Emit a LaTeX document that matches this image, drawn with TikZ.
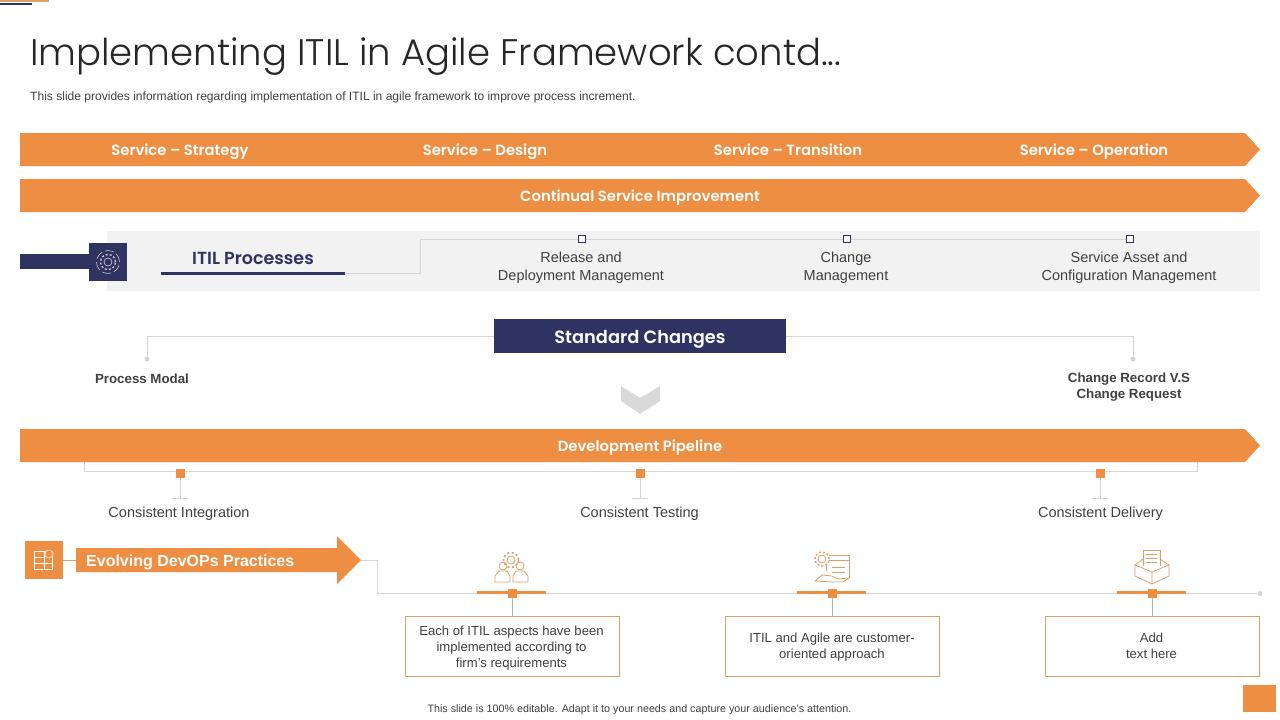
\documentclass[tikz,border=0pt]{standalone}
\usepackage{fontspec}
\setmainfont{Liberation Sans}
\newfontfamily\headfont{Poppins SemiBold}
\newfontfamily\titlefont{Poppins Light}
\usetikzlibrary{positioning}
\definecolor{barorange}{HTML}{ED8E42}
\definecolor{navyblue}{HTML}{2E3361}
\definecolor{lineorange}{HTML}{DB9F68}
\definecolor{linegrey}{HTML}{D4D4D4}
\definecolor{bandgrey}{HTML}{F2F2F2}
\definecolor{textgrey}{HTML}{404040}
\tikzset{
  barlabel/.style={anchor=base, text=white, font=\headfont\fontsize{14.8}{18}\selectfont},
  proclabel/.style={text=textgrey, align=center, font=\fontsize{14.5}{18}\selectfont},
  sublabel/.style={text=textgrey, align=center, font=\fontsize{13.3}{16}\selectfont\bfseries},
  tasklabel/.style={text=textgrey, font=\fontsize{14.5}{18}\selectfont},
  smallsq/.style={draw=navyblue, fill=white, line width=1pt, minimum size=7pt, inner sep=0pt},
  orangesq/.style={fill=barorange, minimum size=9pt, inner sep=0pt},
  greydot/.style={circle, fill=linegrey, minimum size=5pt, inner sep=0pt},
  greyline/.style={draw=linegrey, line width=1pt},
  thickbar/.style={fill=barorange, minimum width=69pt, minimum height=3pt, inner sep=0pt},
  taskbox/.style={draw=lineorange, line width=1pt, minimum width=214pt, minimum height=60.5pt},
  tasktext/.style={text=textgrey, align=center, font=\fontsize{13.1}{16}\selectfont},
  stemline/.style={draw=black!30, line width=.8pt},
  iconline/.style={draw=lineorange, line width=.8pt},
}
\begin{document}
\begin{tikzpicture}[x=1pt, y=-1pt]
\useasboundingbox (0,0) rectangle (1280,720);

\fill[lineorange] (0,0) rectangle (49,1.5);
\fill[navyblue] (0,3) rectangle (32,4.5);

\node[anchor=base west, inner sep=0pt, text=black!85, font=\titlefont\fontsize{37}{40}\selectfont] (title) at (30,65) {Implementing ITIL in Agile Framework contd...};
\node[anchor=west, inner sep=0pt, text=textgrey, font=\fontsize{12.05}{14}\selectfont] (subtitle) at (30,97.5) {This slide provides information regarding implementation of ITIL in agile framework to improve process increment.};

\fill[barorange] (20,133) -- (1245,133) -- (1260,149.5) -- (1245,166) -- (20,166) -- cycle;
\node[barlabel] (strategy) at (180,155.5) {Service – Strategy};
\node[barlabel] (design) at (485,155.5) {Service – Design};
\node[barlabel] (transition) at (788,155.5) {Service – Transition};
\node[barlabel] (operation) at (1094,155.5) {Service – Operation};

\fill[barorange] (20,179) -- (1245,179) -- (1260,195.5) -- (1245,212) -- (20,212) -- cycle;
\node[barlabel] (improve) at (640,201.5) {Continual Service Improvement};

\fill[bandgrey] (107,231) rectangle (1260,291);
\fill[navyblue] (20,254) rectangle (90,269);
\node[fill=navyblue, minimum size=38pt, inner sep=0pt] (procicon) at (108,262) {};
\draw[white!70!navyblue, line width=.7pt] (procicon) circle (4pt);
\draw[white!70!navyblue, line width=1.4pt, dash pattern=on 2pt off 2pt] (procicon) circle (7.5pt);
\draw[white!70!navyblue, line width=.6pt, dash pattern=on 9pt off 3pt] (procicon) circle (11.5pt);

\node[anchor=base, text=navyblue, font=\headfont\fontsize{17.5}{22}\selectfont] (itil) at (253,264.5) {ITIL Processes};
\node[fill=navyblue, minimum width=184pt, minimum height=3.5pt, inner sep=0pt] (itilline) at (253,273.5) {};
\node[smallsq] (sqrelease) at (582,239) {};
\node[smallsq] (sqchange) at (847,239) {};
\node[smallsq] (sqasset) at (1130,239) {};
\draw[greyline] (itilline.east) -- ++(75,0) |- (sqrelease.west);
\draw[greyline] (sqrelease) -- (sqchange);
\draw[greyline] (sqchange) -- (sqasset);
\node[proclabel] (release) at (581,268) {Release and\\Deployment Management};
\node[proclabel] (change) at (846,268) {Change\\Management};
\node[proclabel] (asset) at (1129,268) {Service Asset and\\Configuration Management};

\node[fill=navyblue, minimum width=292pt, minimum height=34pt, inner sep=0pt] (standard) at (640,336) {};
\node[anchor=base, text=white, font=\headfont\fontsize{17.8}{22}\selectfont] (standardtext) at (640,343) {Standard Changes};
\node[greydot] (dotmodal) at (147,359) {};
\node[greydot] (dotrecord) at (1133,359) {};
\draw[greyline] (standard.west) -| (dotmodal);
\draw[greyline] (standard.east) -| (dotrecord);
\node[sublabel] (modal) at (142,379) {Process Modal};
\node[sublabel] (record) at (1129,387.5) {Change Record V.S\\Change Request};

\fill[black!15] (621,386) -- (640,398) -- (660,386) -- (660,401) -- (640,414) -- (621,401) -- cycle;

\coordinate (pipeleft) at (84,462);
\coordinate (piperight) at (1197,462);
\draw[greyline] (pipeleft) -- ++(0,9.5) -| (piperight);
\fill[barorange] (20,429) -- (1245,429) -- (1260,445.5) -- (1245,462) -- (20,462) -- cycle;
\node[barlabel] (pipeline) at (640,451.5) {Development Pipeline};

\node[orangesq] (sqint) at (180,473) {};
\node[orangesq] (sqtest) at (640,473) {};
\node[orangesq] (sqdel) at (1100,473) {};
\coordinate (tickint) at (180,498);
\coordinate (ticktest) at (640,498);
\coordinate (tickdel) at (1100,498);
\draw[greyline] (sqint) -- (tickint) ++(-8,0) -- ++(16,0);
\draw[greyline] (sqtest) -- (ticktest) ++(-8,0) -- ++(16,0);
\draw[greyline] (sqdel) -- (tickdel) ++(-8,0) -- ++(16,0);
\node[tasklabel] (integration) at (179,514) {Consistent Integration};
\node[tasklabel] (testing) at (639.5,514) {Consistent Testing};
\node[tasklabel] (delivery) at (1100.5,514) {Consistent Delivery};

\node[fill=barorange, minimum size=38pt, inner sep=0pt] (devicon) at (44,560) {};
\coordinate (arrowstart) at (76,560);
\coordinate (arrowtip) at (361,560);
\draw[lineorange, line width=1pt] (devicon) -- (arrowstart);
\fill[barorange] (arrowstart |- 0,548) -- (337,548) -- (337,536) -- (arrowtip) -- (337,584) -- (337,572) -- (arrowstart |- 0,572) -- cycle;
\node[anchor=west, inner sep=0pt, text=white, font=\fontsize{16}{18}\selectfont\bfseries] (evolving) at (86,562) {Evolving DevOPs Practices};
\draw[white, line width=.6pt] (34,551) rectangle (52,569) (34,557) -- (44,557) (34,563) -- (52,563) (44,551) -- (44,569);
\draw[barorange!40!white, line width=1pt, fill=barorange] (49,554) circle (4pt);

\node[greydot] (dotend) at (1260,593.5) {};
\draw[greyline] (arrowtip) -- ++(16,0) |- (dotend);

\node[thickbar] (barone) at (511.5,592.5) {};
\node[thickbar] (bartwo) at (831.5,592.5) {};
\node[thickbar] (barthree) at (1151.5,592.5) {};
\node[taskbox] (boxone) at (512.5,646.5) {};
\node[taskbox] (boxtwo) at (832,646.5) {};
\node[taskbox] (boxthree) at (1152,646.5) {};
\node[tasktext] (textone) at (511.5,648.5) {Each of ITIL  aspects have  been\\implemented according to\\firm’s requirements};
\node[tasktext] (texttwo) at (832,647.5) {ITIL and Agile are customer-\\oriented approach};
\node[tasktext] (textthree) at (1151.5,646) {Add\\text here};
\node[orangesq] (sqone) at (512,593) {};
\node[orangesq] (sqtwo) at (832,593) {};
\node[orangesq] (sqthree) at (1152,593) {};
\draw[stemline] (sqone) -- (sqone |- boxone.north);
\draw[stemline] (sqtwo) -- (sqtwo |- boxtwo.north);
\draw[stemline] (sqthree) -- (sqthree |- boxthree.north);

% icons
\draw[iconline] (511,560) circle (4pt);
\draw[iconline, line width=1.6pt, dash pattern=on 2pt off 2.5pt] (511,560) circle (7.5pt);
\draw[iconline] (503,566) circle (4pt) (520,566) circle (4pt);
\draw[iconline] (495,582) -- (495,576) -- (499,571) -- (507,571) -- (510,576) -- (510,582) -- cycle;
\draw[iconline] (513,582) -- (513,576) -- (516,571) -- (524,571) -- (528,576) -- (528,582) -- cycle;

\draw[iconline] (829,555) -- (849,555) -- (849,578) (829,560) -- (849,560) (826,564) -- (826,571);
\draw[iconline] (822,559) circle (4pt);
\draw[iconline, line width=1.4pt, dash pattern=on 2pt off 2pt] (822,559) circle (7pt);
\draw[iconline] (832,567) -- (845,567) (832,572) -- (845,572);
\draw[iconline] (815,581) -- (822,575) -- (832,576) -- (838,579) -- (849,578) -- (843,582) -- (832,582) -- cycle;

\draw[iconline] (1143,566) -- (1143,550) -- (1160,550) -- (1160,566);
\draw[iconline] (1146,554) -- (1157,554) (1146,558) -- (1157,558) (1146,562) -- (1157,562);
\draw[iconline] (1143,559) -- (1135,565) -- (1152,572) -- (1169,565) -- (1160,559);
\draw[iconline] (1135,565) -- (1135,576) -- (1152,584) -- (1169,576) -- (1169,565) (1152,572) -- (1152,584);

\node[inner sep=0pt, text=textgrey, font=\fontsize{10.75}{13}\selectfont] (footer) at (639.5,710) {This slide is 100\% editable.  Adapt it to your needs and capture your audience’s attention.};
\node[fill=barorange, minimum width=33pt, minimum height=27pt, inner sep=0pt] (pagebox) at (1259.5,698.5) {};
\end{tikzpicture}
\end{document}
